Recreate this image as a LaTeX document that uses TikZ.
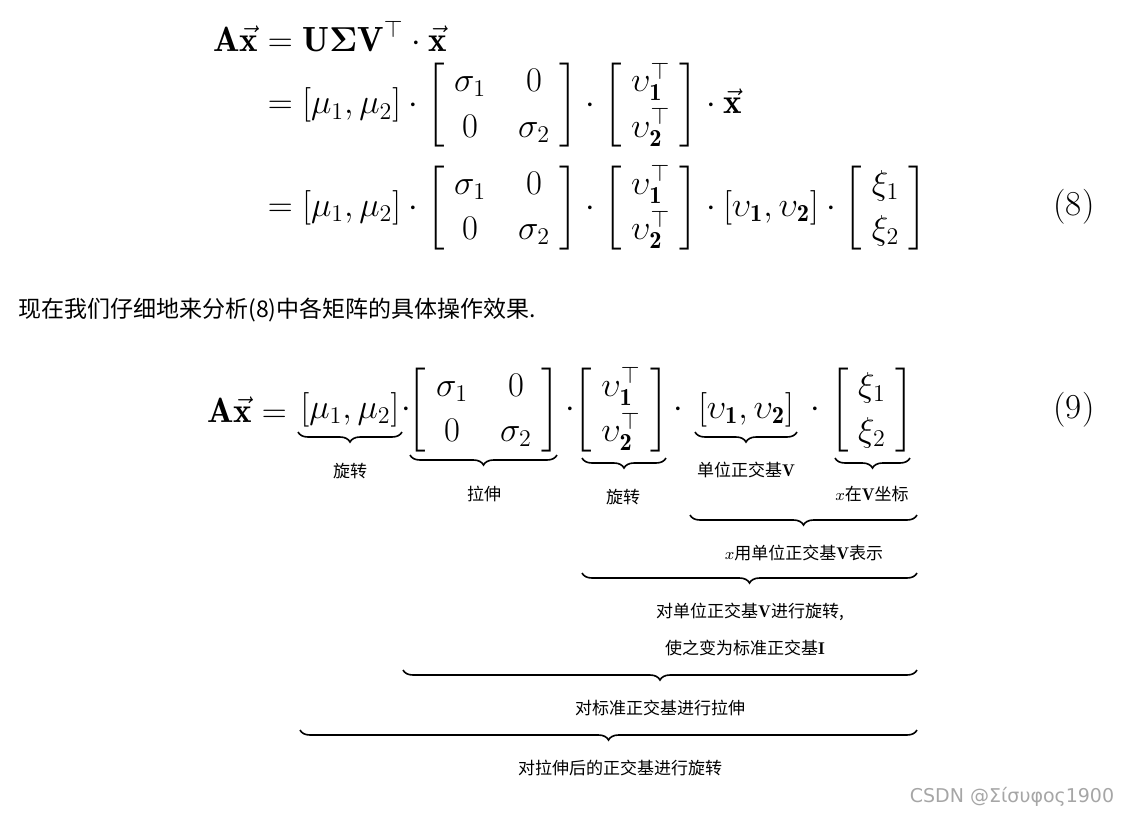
\documentclass[tikz,border=0pt]{standalone}
\usepackage{amsmath,amssymb}
\usepackage{fontspec}
\newfontfamily\cjk{Noto Sans CJK SC}
\newfontfamily\wmfont{DejaVu Sans}
\usetikzlibrary{decorations.pathreplacing}
\renewcommand{\arraystretch}{1.08}
\setlength{\arraycolsep}{8pt}
\newcommand{\mS}{\begin{bmatrix}\;\sigma_1 & 0\;\\ \;0 & \sigma_2\;\end{bmatrix}}
\newcommand{\mV}{\begin{bmatrix}\;\upsilon_{\mathbf 1}^{\top}\;\\ \;\upsilon_{\mathbf 2}^{\top}\;\end{bmatrix}}
\newcommand{\mX}{\begin{bmatrix}\;\xi_1\;\\ \;\xi_2\;\end{bmatrix}}
\tikzset{
  eq/.style={inner sep=0pt,font=\fontsize{17.5}{21}\selectfont},
  lbl/.style={inner sep=0pt,font=\fontsize{8.5}{10}\selectfont\cjk},
  br/.style={decorate,decoration={brace,mirror,amplitude=5pt},line width=0.8pt},
}
\begin{document}
\begin{tikzpicture}[x=0.5pt,y=-0.5pt]
\useasboundingbox (0,0) rectangle (1125,816);
\node[eq,anchor=north west] (e8) at (213,20) {$\begin{aligned}
\mathbf{A}\vec{\mathbf{x}} &= \mathbf{U}\boldsymbol{\Sigma}\mathbf{V}^{\top}\cdot\vec{\mathbf{x}}\\[-6pt]
&= [\mu_1,\mu_2]\cdot\mS\cdot\mV\cdot\vec{\mathbf{x}}\\[2pt]
&= [\mu_1,\mu_2]\cdot\mS\cdot\mV\cdot[\upsilon_{\mathbf 1},\upsilon_{\mathbf 2}]\cdot\mX
\end{aligned}$};
\node[eq] (n8) at (1074,207) {(8)};
\node[anchor=west,inner sep=0pt,font=\fontsize{11.5}{14}\selectfont\cjk] (txt) at (18,310) {现在我们仔细地来分析(8)中各矩阵的具体操作效果.};
% equation 9
\node[eq,anchor=west] (ax) at (207,410) {$\mathbf{A}\vec{\mathbf{x}}=$};
\node[eq] (mu) at (350,410) {$[\mu_1,\mu_2]$};
\node[eq] (d1) at (406,410) {$\cdot$};
\node[eq] (sig) at (484,410) {$\mS$};
\node[eq] (d2) at (570,410) {$\cdot$};
\node[eq] (vt) at (621,410) {$\mV$};
\node[eq] (d3) at (678,410) {$\cdot$};
\node[eq] (v) at (746,410) {$[\upsilon_{\mathbf 1},\upsilon_{\mathbf 2}]$};
\node[eq] (d4) at (815,410) {$\cdot$};
\node[eq] (xi) at (872,410) {$\mX$};
\node[eq] (n9) at (1074,410) {(9)};
% braces
\draw[br] (298,432) -- (402,432);
\node[lbl] (l1) at (350,471) {旋转};
\draw[br] (410,455) -- (557,455);
\node[lbl] (l2) at (484,494) {拉伸};
\draw[br] (582,458) -- (666,458);
\node[lbl] (l3) at (623,497) {旋转};
\draw[br] (695,432) -- (797,432);
\node[lbl] (l4) at (746,470) {单位正交基$\mathbf{V}$};
\draw[br] (835,458) -- (910,458);
\node[lbl] (l5) at (872,494) {$x$在$\mathbf{V}$坐标};
\draw[br] (690,515) -- (917,515);
\node[lbl] (l6) at (804,553) {$x$用单位正交基$\mathbf{V}$表示};
\draw[br] (582,573) -- (917,573);
\node[lbl] (l7) at (750,612) {对单位正交基$\mathbf{V}$进行旋转,};
\node[lbl] (l8) at (745,648) {使之变为标准正交基$\mathbf{I}$};
\draw[br] (403,670) -- (917,670);
\node[lbl] (l9) at (660,708) {对标准正交基进行拉伸};
\draw[br] (300,730) -- (917,730);
\node[lbl] (l10) at (620,768) {对拉伸后的正交基进行旋转};
\node[inner sep=0pt,text=black!35,font=\fontsize{9.5}{11}\selectfont\wmfont] (wm) at (1012,797) {CSDN @Σίσυφος1900};
\end{tikzpicture}
\end{document}
